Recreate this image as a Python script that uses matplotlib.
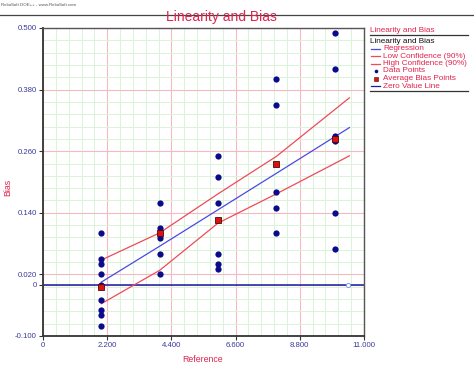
import matplotlib
matplotlib.use("Agg")
import matplotlib.pyplot as plt
from matplotlib.lines import Line2D
import numpy as np

plt.rcParams['font.family'] = ['Liberation Sans', 'DejaVu Sans']

# ---------------- data ----------------
ref_2 = [0.10, 0.05, 0.04, 0.02, 0.0, -0.03, -0.05, -0.06, -0.08]
ref_4 = [0.16, 0.11, 0.09, 0.06, 0.02]
ref_6 = [0.25, 0.21, 0.16, 0.06, 0.04, 0.03]
ref_8 = [0.40, 0.35, 0.18, 0.15, 0.10]
ref_10 = [0.49, 0.42, 0.29, 0.28, 0.14, 0.07]
reference_values = [2, 4, 6, 8, 10]
data_groups = [ref_2, ref_4, ref_6, ref_8, ref_10]

avg_bias = [-0.005, 0.100, 0.125, 0.236, 0.283]

line_x = [2, 4, 6, 8, 10.5]
regression = [0.005, 0.075, 0.146, 0.217, 0.306]
high_conf = [0.048, 0.101, 0.177, 0.250, 0.364]
low_conf = [-0.037, 0.028, 0.120, 0.177, 0.251]
zero_marker_x = [10.45]

x_ticks = [0, 2.2, 4.4, 6.6, 8.8, 11.0]
x_tick_labels = ["0", "2.200", "4.400", "6.600", "8.800", "11.000"]
y_ticks = [-0.1, 0.0, 0.02, 0.14, 0.26, 0.38, 0.5]
y_tick_labels = ["-0.100", "0", "0.020", "0.140", "0.260", "0.380", "0.500"]

legend_labels = ["Regression", "Low Confidence (90%)", "High Confidence (90%)",
                 "Data Points", "Average Bias Points", "Zero Value Line"]

# ---------------- style ----------------
W, H = 474, 365
CRIMSON = '#E0244F'
TICKC = '#3A3A9A'
NAVY = '#0A0A8A'
REGC = '#4A4AE0'
CONFC = '#EE4A5A'
ZEROC = '#1A1AA8'

fig = plt.figure(figsize=(W / 100, H / 100), dpi=100)
fig.patch.set_facecolor('white')

L, R, T, B = 43, 364, 28, 336
ax = fig.add_axes([L / W, 1 - B / H, (R - L) / W, (B - T) / H])
ax.set_xlim(0, 11)
ax.set_ylim(-0.1, 0.5)

ax.set_xticks(x_ticks)
ax.set_xticklabels(x_tick_labels)
ax.set_yticks(y_ticks)
ax.set_yticklabels(y_tick_labels)
ax.set_xticks(np.arange(0, 11.001, 0.44), minor=True)
ax.set_yticks(np.arange(-0.1, 0.5001, 0.024), minor=True)
ax.tick_params(axis='both', which='major', labelsize=5.6, colors='#333333',
               labelcolor=TICKC, length=3, width=0.8, pad=1.5)
ax.tick_params(axis='both', which='minor', length=0)
ax.grid(True, which='minor', color='#D9F4D9', lw=0.7, zorder=0)
ax.grid(True, which='major', color='#F6B8C3', lw=0.8, zorder=0)
ax.set_axisbelow(True)
for s in ['left', 'bottom']:
    ax.spines[s].set_color('#333333')
    ax.spines[s].set_linewidth(1.3)
for s in ['top', 'right']:
    ax.spines[s].set_color('#555555')
    ax.spines[s].set_linewidth(1.0)

# zero value line
ax.axhline(0, color=ZEROC, lw=1.1, zorder=2)
ax.plot(zero_marker_x, [0] * len(zero_marker_x), 'o', ms=3, mfc='white',
        mec='#8A9AEE', mew=0.7, zorder=3)

# lines
ax.plot(line_x, high_conf, color=CONFC, lw=0.9, zorder=3)
ax.plot(line_x, low_conf, color=CONFC, lw=0.9, zorder=3)
ax.plot(line_x, regression, color=REGC, lw=0.9, zorder=3)

# data points
for xv, grp in zip(reference_values, data_groups):
    ax.plot([xv] * len(grp), grp, 'o', color=NAVY, ms=4.5, mew=0, zorder=4)

# average bias points
ax.plot(reference_values, avg_bias, 's', mfc='#DD1111', mec='#4A0A0A',
        mew=0.6, ms=4.6, zorder=5)

# labels
ax.set_xlabel("Reference", color=CRIMSON, fontsize=6.3, labelpad=5)
ax.set_ylabel("Bias", color=CRIMSON, fontsize=6.3, labelpad=14)
ax.xaxis.set_label_coords((203 - L) / (R - L), -(355 - B) / (B - T))
ax.yaxis.set_label_coords(-(L - 12) / (R - L), (B - 187) / (B - T))

# title and header
fig.text(221 / W, 1 - 17 / H, "Linearity and Bias", color=CRIMSON,
         fontsize=10, ha='center', va='center')
fig.text(1 / W, 1 - 5 / H, "ReliaSoft DOE++ - www.ReliaSoft.com", color='#555555',
         fontsize=3.2, ha='left', va='center')
fig.add_artist(Line2D([0, 1], [1 - 15 / H] * 2, transform=fig.transFigure,
                      color='#444444', lw=0.9))

# legend (manual)
def fx(px):
    return px / W

def fy(py):
    return 1 - py / H

fig.text(fx(370), fy(30), "Linearity and Bias", color=CRIMSON, fontsize=5.9,
         ha='left', va='center')
fig.add_artist(Line2D([fx(370), fx(468)], [fy(34.5)] * 2, transform=fig.transFigure,
                      color='#333333', lw=0.9))
fig.text(fx(370), fy(41.5), "Linearity and Bias", color='#111111', fontsize=5.9,
         ha='left', va='center')
ys = [48.5, 56, 63.5, 71, 78.5, 86]
styles = [('line', REGC), ('line', CONFC), ('line', CONFC),
          ('dot', NAVY), ('sq', '#DD1111'), ('line', ZEROC)]
for yy, lab, (kind, col) in zip(ys, legend_labels, styles):
    if kind == 'line':
        fig.add_artist(Line2D([fx(371), fx(380)], [fy(yy)] * 2,
                              transform=fig.transFigure, color=col, lw=0.9))
    elif kind == 'dot':
        fig.add_artist(Line2D([fx(375.5)], [fy(yy)], transform=fig.transFigure,
                              marker='o', ms=2.6, color=col, mew=0, ls='none'))
    else:
        fig.add_artist(Line2D([fx(375.5)], [fy(yy)], transform=fig.transFigure,
                              marker='s', ms=2.8, mfc=col, mec='#4A0A0A', mew=0.4,
                              ls='none'))
    fig.text(fx(383), fy(yy), lab, color=CRIMSON, fontsize=5.9,
             ha='left', va='center')
fig.add_artist(Line2D([fx(370), fx(468)], [fy(90.5)] * 2, transform=fig.transFigure,
                      color='#333333', lw=0.9))

fig.savefig("out.png", dpi=100)
